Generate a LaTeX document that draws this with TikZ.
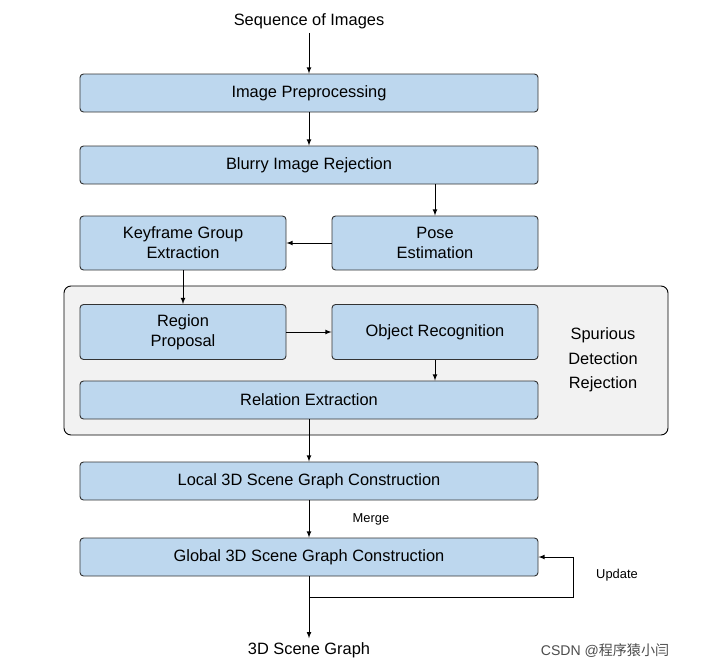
\documentclass[tikz,border=0pt]{standalone}
\usepackage{fontspec}
\setmainfont{Liberation Sans}
\newfontfamily\cjk{Noto Sans CJK SC}
\usetikzlibrary{positioning}
\definecolor{boxblue}{HTML}{BDD7EE}
\definecolor{panelgray}{HTML}{F2F2F2}
\tikzset{
  stage/.style={draw=black!80, fill=boxblue, rounded corners=3pt, thick, align=center, font=\fontsize{14}{17}\selectfont},
  lbl/.style={align=center, font=\fontsize{14}{17}\selectfont},
  flow/.style={thick, -latex}
}
\begin{document}
\begin{tikzpicture}[x=0.03cm, y=-0.03cm]
  \useasboundingbox (0,0) rectangle (707,670);
  % Panel
  \draw[thick, fill=panelgray, rounded corners=6pt] (64,286) rectangle (668,435);
  \node[lbl] (spur) at (603,360) {Spurious\\[4pt]Detection\\[4pt]Rejection};

  % Stages
  \node[lbl] (seq) at (309,21) {Sequence of Images};
  \node[stage, minimum width=13.74cm, minimum height=1.14cm] (prep) at (309,93) {Image Preprocessing};
  \node[stage, minimum width=13.74cm, minimum height=1.14cm] (blur) at (309,165) {Blurry Image Rejection};
  \node[stage, minimum width=6.18cm, minimum height=1.62cm] (key) at (183,243) {Keyframe Group\\Extraction};
  \node[stage, minimum width=6.18cm, minimum height=1.62cm] (pose) at (435,243) {Pose\\Estimation};
  \node[stage, minimum width=6.18cm, minimum height=1.65cm] (reg) at (183,332) {Region\\Proposal};
  \node[stage, minimum width=6.18cm, minimum height=1.65cm] (obj) at (435,332) {Object Recognition};
  \node[stage, minimum width=13.74cm, minimum height=1.14cm] (rel) at (309,400) {Relation Extraction};
  \node[stage, minimum width=13.74cm, minimum height=1.14cm] (loc) at (309,481) {Local 3D Scene Graph Construction};
  \node[stage, minimum width=13.74cm, minimum height=1.14cm] (glob) at (309,557) {Global 3D Scene Graph Construction};
  \node[lbl] (out) at (309,650) {3D Scene Graph};
  \node[lbl, font=\fontsize{11}{13}\selectfont] (merge) at (371,519) {Merge};
  \node[lbl, font=\fontsize{11}{13}\selectfont] (upd) at (617,575) {Update};
  \node[text=black!70, font=\fontsize{12}{14}\selectfont] (mark) at (605,651) {CSDN @{\cjk 程序猿小闫}};
  \coordinate (split) at (309,597);
  \coordinate (turn) at (573,597);

  % Connectors
  \draw[flow] (seq) -- (prep);
  \draw[flow] (prep) -- (blur);
  \draw[flow] (blur.south -| pose) -- (pose);
  \draw[flow] (pose) -- (key);
  \draw[flow] (key) -- (reg);
  \draw[flow] (reg) -- (obj);
  \draw[flow] (obj) -- (rel.north -| obj);
  \draw[flow] (rel) -- (loc);
  \draw[flow] (loc) -- (glob);
  \draw[flow] (glob) -- (out);
  \draw[flow] (split) -- (turn) |- (glob.east);
\end{tikzpicture}
\end{document}
